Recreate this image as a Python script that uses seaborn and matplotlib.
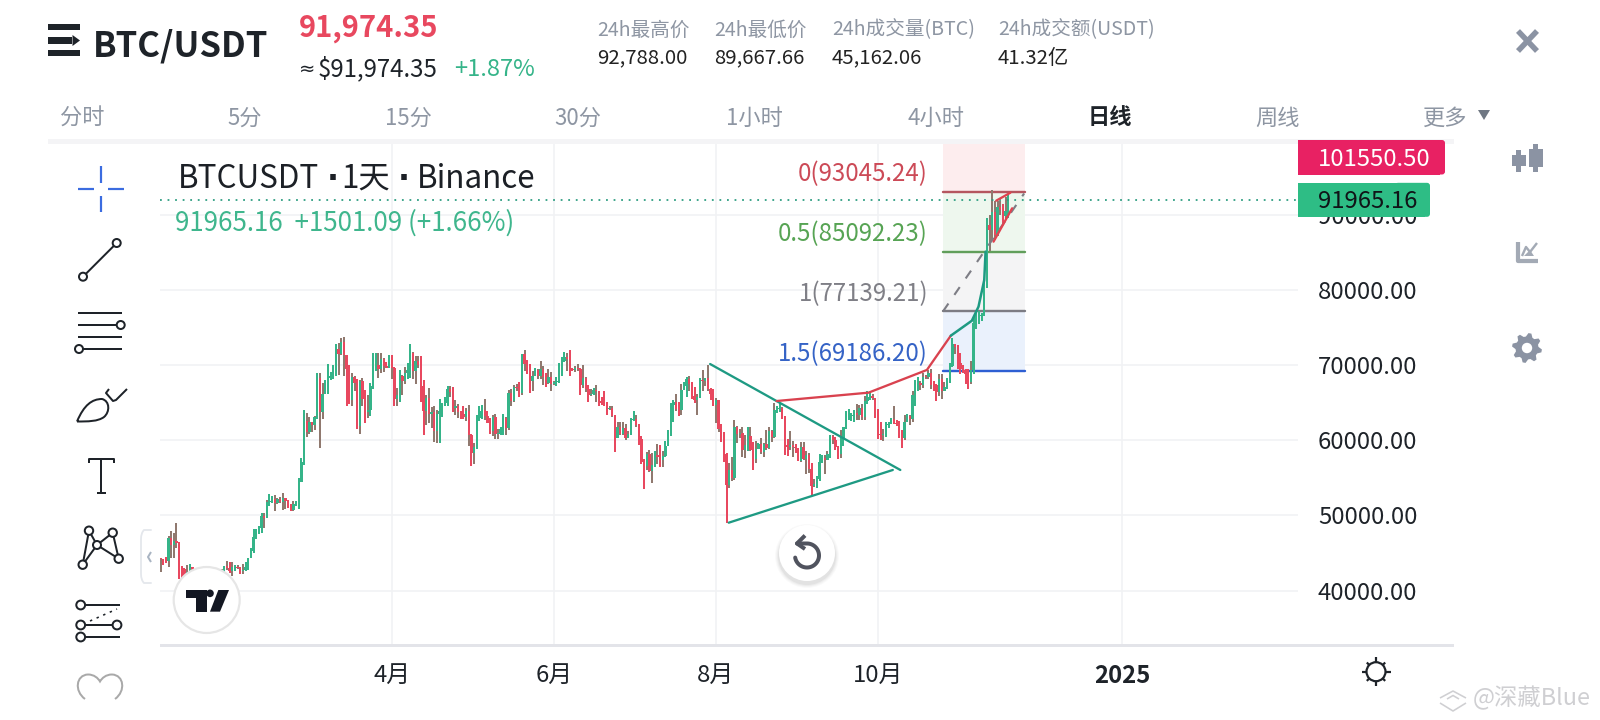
import numpy as np
import pandas as pd
import seaborn as sns
import matplotlib
matplotlib.use("Agg")
import matplotlib.pyplot as plt
import matplotlib.dates as mdates
from matplotlib.patches import Circle, Polygon, Rectangle, FancyBboxPatch, PathPatch
from matplotlib.path import Path

# ---- daily BTCUSDT candles, 5 Jan 2024 onwards, in thousands of USDT ----
first_day = "2024-01-05"
first_open = 44.30
closes = [
    44.15,43.97,43.93,46.95,46.11,46.63,46.31,42.89,42.84,41.73,42.51,43.14,42.78,41.33,41.66,41.70,41.58,39.57,39.90,40.08,39.96,41.82,42.12,42.04,43.30,42.95,42.58,
    43.08,43.20,42.99,42.58,42.70,43.09,44.34,45.29,47.13,47.77,48.29,49.96,49.70,51.80,51.91,52.13,51.65,52.12,51.78,52.26,51.85,51.30,50.73,51.57,51.73,54.49,57.04,62.50,61.13,
    62.39,61.98,63.13,68.24,63.80,66.10,66.89,68.28,68.50,69.02,72.12,71.48,73.07,71.39,69.50,65.29,68.39,67.60,61.94,67.84,65.50,63.80,64.03,67.24,69.95,69.99,69.45,70.78,69.89,69.65,71.33,
    69.65,65.46,65.96,68.50,67.83,68.90,69.36,71.62,69.14,70.59,70.06,67.19,63.92,65.66,63.42,63.79,61.28,63.47,63.82,64.94,64.94,66.84,66.41,64.28,64.50,63.77,63.46,63.12,63.84,60.67,
    58.32,59.12,62.89,63.89,64.03,63.16,62.33,61.19,63.07,60.79,60.82,61.48,62.94,61.58,66.25,65.23,67.05,66.94,66.27,71.45,70.14,69.12,67.93,68.51,69.28,68.51,69.43,68.37,67.63,68.36,67.49,
    67.75,67.75,68.80,70.57,71.08,70.76,69.35,69.31,69.65,69.50,67.32,68.24,66.75,66.01,66.19,66.64,66.49,65.15,64.96,64.83,64.10,64.25,63.18,60.27,61.80,60.86,61.68,60.32,60.89,62.67,
    62.88,62.04,60.20,57.05,56.63,58.23,55.85,56.70,58.04,57.72,57.34,57.89,59.20,60.80,64.72,65.04,64.09,63.98,66.68,67.15,68.16,67.53,65.93,65.37,65.77,67.91,67.90,68.25,66.78,66.19,64.62,
    65.35,61.49,60.70,58.16,53.99,56.03,55.03,61.71,60.88,60.94,58.71,59.35,60.60,58.74,57.56,58.87,59.48,58.44,59.49,59.02,61.16,60.38,64.04,64.16,64.22,62.83,59.42,59.03,59.37,59.12,58.97,
    57.30,59.13,57.48,57.97,56.16,53.95,54.16,54.87,57.05,57.64,57.34,58.13,60.50,60.00,59.13,58.21,60.30,61.76,62.95,63.20,63.35,63.58,63.33,64.26,63.14,65.18,65.78,65.86,65.60,63.33,
    60.80,60.65,60.75,62.08,62.09,62.82,62.22,62.13,60.58,60.27,62.45,63.20,62.85,66.05,67.04,67.61,67.37,68.43,68.38,69.00,67.37,67.36,66.43,68.16,66.60,67.01,67.93,69.91,72.73,72.34,70.29,
    69.50,69.37,68.77,67.80,69.35,75.64,75.90,76.54,76.68,80.37,88.65,87.95,90.37,87.25,91.06,90.55,89.85,90.464,91.965,
]
highs = [
    44.36,44.19,44.47,47.25,47.90,47.70,49.05,46.52,43.26,43.07,43.40,43.58,43.20,42.93,42.20,41.87,41.90,41.67,40.13,40.55,40.35,42.23,42.20,42.84,43.31,43.88,43.75,
    43.75,43.42,43.38,43.12,43.49,43.76,44.37,45.61,48.20,48.17,48.59,50.33,50.36,52.04,52.82,52.57,52.65,52.37,52.47,52.95,52.37,52.03,51.55,51.96,51.95,54.91,57.59,64.00,63.68,
    63.11,62.43,63.23,68.99,69.00,67.64,67.98,70.13,69.02,70.00,72.80,72.92,73.65,73.78,71.36,70.00,68.93,68.55,68.11,68.03,68.24,66.65,65.98,67.62,71.56,71.60,71.55,71.56,70.92,70.35,71.37,
    71.37,69.67,66.90,69.29,68.72,69.67,70.33,72.80,71.76,71.17,71.23,71.23,68.00,66.00,66.88,64.37,64.50,64.00,65.45,65.00,65.70,67.23,67.21,67.07,65.30,64.79,63.88,64.50,64.24,64.73,
    60.82,59.60,63.32,64.49,64.64,65.50,63.85,62.99,63.40,63.47,61.44,61.82,63.45,63.12,66.70,66.80,67.40,67.45,67.70,71.52,71.95,70.63,70.08,69.20,69.55,69.50,70.59,69.90,68.90,69.50,69.02,
    67.90,68.40,70.27,71.06,71.76,71.63,71.98,69.56,69.85,70.15,69.56,70.00,68.45,67.30,66.79,66.95,67.30,66.60,65.70,66.48,65.07,64.50,64.55,63.37,62.40,62.48,62.37,62.20,61.20,63.00,
    63.86,63.29,62.15,60.50,57.50,58.48,58.75,58.30,58.60,59.50,59.30,58.50,59.85,61.42,64.90,65.40,66.13,65.10,67.49,67.80,68.37,68.49,67.80,67.10,66.17,68.30,69.40,68.32,70.00,66.95,66.80,
    65.59,65.00,62.15,61.10,58.30,57.00,57.75,62.75,61.85,61.45,61.80,60.70,61.80,61.80,59.80,59.85,59.65,60.30,59.60,61.40,61.82,61.40,64.99,64.50,65.00,64.48,63.20,60.20,61.17,59.90,59.45,
    59.00,59.81,59.82,58.52,58.33,57.00,54.85,55.30,58.12,58.04,58.00,58.60,60.67,60.66,60.38,59.21,61.32,61.80,63.85,64.13,63.56,64.00,64.75,64.70,64.82,65.84,66.50,66.26,66.08,65.55,
    64.13,62.37,61.47,62.48,62.37,63.00,64.50,62.70,62.50,61.30,63.40,63.45,63.30,66.50,67.95,68.38,67.90,68.97,68.67,69.40,69.49,67.84,67.45,68.80,68.74,67.78,68.25,70.27,73.62,72.70,72.70,
    71.60,70.00,69.50,69.50,70.55,76.46,76.95,77.20,76.95,81.50,89.50,89.96,93.27,91.76,91.85,91.80,91.40,92.30,92.79,
]
lows = [
    42.45,43.40,43.63,43.20,44.30,44.35,45.61,41.50,41.72,41.72,41.72,42.05,42.20,40.68,40.28,41.41,41.45,39.43,38.56,39.48,39.60,39.82,41.39,41.62,41.81,42.68,42.28,
    41.88,42.57,42.88,42.22,42.26,42.57,42.79,44.33,44.96,46.80,47.55,47.71,48.30,49.63,51.31,51.60,50.63,51.52,51.65,50.75,50.90,50.93,50.52,50.58,51.28,50.90,54.45,56.70,60.36,
    60.79,61.10,61.30,62.88,59.00,62.77,66.17,66.14,68.03,68.13,68.60,68.63,71.33,68.55,64.54,64.87,64.55,66.60,61.50,60.78,64.50,62.26,63.00,63.16,66.75,69.26,68.23,68.90,69.08,69.55,69.60,
    68.20,64.49,64.50,65.10,66.00,67.45,68.20,68.30,68.20,67.50,69.57,65.09,60.66,62.00,62.30,61.62,59.77,59.60,59.60,63.10,64.50,64.50,65.75,63.75,63.40,63.00,62.80,62.80,62.60,59.19,
    56.55,56.90,58.80,62.55,62.80,62.70,62.30,60.89,60.62,60.19,60.15,60.63,60.75,60.70,61.32,64.60,65.10,66.60,65.80,66.00,69.15,68.80,66.30,66.50,68.80,68.10,68.20,67.30,67.10,67.50,66.60,
    67.30,67.25,67.60,68.55,70.35,69.20,68.50,69.20,69.13,69.25,66.05,66.90,66.40,65.08,65.90,66.02,65.13,64.50,64.70,64.50,63.40,64.00,63.05,58.40,60.25,60.70,60.63,60.00,60.55,60.70,
    62.52,61.80,59.39,56.77,53.50,56.00,55.72,54.26,56.50,56.88,56.48,56.50,57.80,59.65,60.60,62.40,63.90,63.25,63.30,66.70,65.75,66.60,65.45,64.90,63.40,65.60,66.60,67.20,66.50,65.30,64.50,
    62.30,61.10,59.80,57.10,49.00,53.70,54.54,54.75,59.60,60.30,57.70,57.65,58.50,58.50,56.10,57.00,58.80,58.20,57.80,58.75,58.80,59.80,60.35,63.60,63.80,62.80,58.03,57.85,58.70,57.75,58.30,
    57.20,57.12,57.40,55.55,55.60,52.55,53.75,53.60,54.60,56.95,55.55,57.60,57.63,59.45,58.70,57.50,57.60,59.17,61.55,62.70,62.55,62.38,62.70,62.70,62.67,62.70,64.80,65.40,65.40,62.90,
    60.10,59.98,59.90,60.40,61.68,62.10,62.10,61.90,60.30,58.90,60.00,62.40,62.00,62.40,64.50,66.50,66.70,67.00,68.10,68.10,66.80,66.50,65.25,65.90,65.50,66.80,66.80,67.60,69.70,71.40,69.50,
    68.80,69.00,67.45,66.80,67.46,68.80,74.80,75.50,75.80,76.50,80.20,85.20,86.60,86.65,87.20,90.00,88.70,89.30,89.60,
]

# ---- price axis and date axis ----
price_ticks = [40000, 50000, 60000, 70000, 80000, 90000]
price_range = [32766, 99787]
date_range = ["2024-01-04 19:00", "2025-03-08 02:00"]
date_ticks = ["2024-04-01", "2024-06-01", "2024-08-01", "2024-10-01", "2025-01-01"]
date_labels = ["4月", "6月", "8月", "10月", "2025"]

# ---- Fibonacci tool ----
fib_span = ["2024-10-25 12:00", "2024-11-25 10:00"]
fib_levels = [100998.25, 93045.24, 85092.23, 77139.21, 69186.20]
fib_names = ["0", "0.5", "1", "1.5"]
fib_fills = ["#FDEDEE", "#EEF7EE", "#F4F4F5", "#EAF1FC"]
fib_lines = ["#B5565F", "#619E5B", "#7C7C84", "#2E5FD3"]
fib_text = ["#CC4A57", "#57A454", "#7F7F86", "#3563C6"]
fib_diag_dates = ["2024-10-25 12:00", "2024-11-25 00:00"]
fib_diag_prices = [77139, 92800]

# ---- hand-drawn trend lines ----
wedge_upper_dates = ["2024-07-29 20:00", "2024-10-09 10:00"]
wedge_upper_prices = [70130, 56040]
wedge_lower_dates = ["2024-08-05 20:00", "2024-10-06 14:00"]
wedge_lower_prices = [49030, 56040]
red_path_dates = ["2024-08-23 20:00", "2024-09-27 10:00", "2024-10-19 10:00", "2024-10-28 10:00"]
red_path_prices = [65210, 66320, 69340, 73900]
teal_path_dates = ["2024-10-28 10:00", "2024-11-05 08:00", "2024-11-07 20:00", "2024-11-10 00:00", "2024-11-10 12:00"]
teal_path_prices = [73900, 75890, 77750, 81300, 85070]
channel_low_dates = ["2024-11-13 12:00", "2024-11-20 12:00"]
channel_low_prices = [86400, 90840]
channel_high_dates = ["2024-11-14 12:00", "2024-11-19 20:00"]
channel_high_prices = [91850, 92910]

last_price = 91965.16
last_change = "91965.16  +1501.09 (+1.66%)"

GREEN = "#35B489"
RED = "#E8485F"
MUTED = "#90796F"
INK = "#1E2329"
SLATE = "#8B93A3"
GRID = "#F1F2F4"

sns.set_theme(style="white")
plt.rcParams["font.family"] = ["Noto Sans CJK SC", "DejaVu Sans"]

fig = plt.figure(figsize=(16, 7.2), dpi=100)
W, H = 1600, 720
px = 0.72  # points per pixel at this resolution
ax = fig.add_axes([160 / W, (H - 645) / H, (1298 - 160) / W, (645 - 141) / H])

# ---- candles ----
days = pd.date_range(first_day, periods=len(closes), freq="D")
candles = pd.DataFrame({
    "day": mdates.date2num(days),
    "open": np.array([first_open] + closes[:-1]) * 1000,
    "close": np.array(closes) * 1000,
    "high": np.array(highs) * 1000,
    "low": np.array(lows) * 1000,
})
candles["up"] = candles["close"] >= candles["open"]
candles["flip"] = candles["up"] != candles["up"].shift(1, fill_value=True)
candles["body_color"] = np.where(candles["up"], GREEN, RED)
candles["wick_color"] = np.where(candles["flip"], MUTED, candles["body_color"])
candles["bottom"] = candles[["open", "close"]].min(axis=1)
candles["height"] = (candles["open"] - candles["close"]).abs().clip(lower=120)

# Horizontal and vertical grid
for p in price_ticks:
    ax.axhline(p, color=GRID, lw=1.6 * px, zorder=0.5)
for d in mdates.date2num(pd.to_datetime(date_ticks)):
    ax.axvline(d, color=GRID, lw=1.6 * px, zorder=0.5)

# Fibonacci bands and level lines
fx = mdates.date2num(pd.to_datetime(fib_span))
for i, fill in enumerate(fib_fills):
    ax.fill_between(fx, fib_levels[i + 1], fib_levels[i], color=fill, lw=0, zorder=0.8)
    sns.lineplot(x=fx, y=[fib_levels[i + 1]] * 2, ax=ax, color=fib_lines[i],
                 lw=2.4 * px, estimator=None, sort=False, zorder=1.5)
    ax.annotate(f"{fib_names[i]}({fib_levels[i + 1]:.2f})",
                xy=(fx[0], fib_levels[i + 1]), xytext=(-15 * px, 4.5 * px),
                textcoords="offset points", ha="right", va="bottom",
                fontsize=17.3, color=fib_text[i], zorder=6)

ax.vlines(candles["day"], candles["low"], candles["high"],
          colors=candles["wick_color"], lw=2.0 * px, zorder=2)
ax.bar(candles["day"], candles["height"], bottom=candles["bottom"], width=0.88,
       color=candles["body_color"], lw=0, zorder=2.2)


def trend(dates, prices, color, lw=2.3, ls="-", z=3):
    sns.lineplot(x=mdates.date2num(pd.to_datetime(dates)), y=prices, ax=ax, color=color,
                 lw=lw * px, ls=ls, estimator=None, sort=False, zorder=z)


trend(fib_diag_dates, fib_diag_prices, "#7D7D85", lw=2.1, ls=(0, (4.5, 5)))
trend(wedge_upper_dates, wedge_upper_prices, "#1E9A83")
trend(wedge_lower_dates, wedge_lower_prices, "#1E9A83")
trend(red_path_dates, red_path_prices, "#D9424F")
trend(teal_path_dates, teal_path_prices, "#1E9A83", lw=2.5)
trend(channel_low_dates, channel_low_prices, "#E0434F")
trend(channel_high_dates, channel_high_prices, "#E0434F")

ax.axhline(last_price, color="#2E9E82", lw=1.8 * px, ls=(0, (1, 3.2)), zorder=2.6)

# Axes furniture
ax.set_xlim(*mdates.date2num(pd.to_datetime(date_range)))
ax.set_ylim(*price_range)
ax.set_xlabel("")
ax.set_ylabel("")
ax.yaxis.tick_right()
ax.set_yticks(price_ticks, [f"{p:.2f}" for p in price_ticks])
ax.set_xticks(mdates.date2num(pd.to_datetime(date_ticks)), date_labels)
ax.tick_params(axis="y", length=0, pad=20 * px, labelsize=17.2, labelcolor=INK)
ax.tick_params(axis="x", length=0, pad=19 * px, labelsize=17.2, labelcolor=INK)
ax.get_xticklabels()[-1].set_fontweight("bold")
ax.grid(False)
sns.despine(ax=ax, left=True, right=True, top=True, bottom=True)

# ---- everything around the chart, placed in pixel coordinates ----
ui = fig.add_axes([0, 0, 1, 1], facecolor="none")
ui.set_xlim(0, W)
ui.set_ylim(H, 0)
ui.axis("off")


def draw(points, color=INK, lw=2.0, **kw):
    xs, ys = zip(*points)
    ui.plot(xs, ys, color=color, lw=lw * px, solid_capstyle=kw.pop("cap", "butt"), **kw)


def ring(x, y, r, color=INK, lw=2.0):
    ui.add_patch(Circle((x, y), r, fc="white", ec=color, lw=lw * px, zorder=4))


def block(x0, y0, x1, y1, color):
    ui.add_patch(Rectangle((x0, y0), x1 - x0, y1 - y0, fc=color, ec="none"))


def label(x, y, s, size, color=INK, weight="normal", ha="left", z=6):
    ui.text(x, y, s, fontsize=size, color=color, fontweight=weight, ha=ha, va="center", zorder=z)


# Top and bottom rules
block(48, 138.5, 1454, 144, "#F4F4F6")
block(160, 644, 1454, 646.5, "#E3E4E9")

# Ticker logo and name
block(48, 24, 80, 30, INK)
block(48, 37, 72, 44, INK)
ui.add_patch(Polygon([(72.5, 35), (80, 40.5), (72.5, 46)], fc=INK, ec="none"))
block(48, 50, 80, 56, INK)
label(93, 46, "BTC/USDT", 25, weight="bold")

# Quote block
label(299, 28, "91,974.35", 21, color=RED, weight="bold")
ui.text(299, 69, "≈", fontsize=14, color=INK, family="DejaVu Sans", ha="left", va="center", zorder=6)
label(318, 69, "$91,974.35", 17.3, color=INK)
label(454, 69, "+1.87%", 17, color=GREEN)

# 24h statistics
stat_x = [597, 714, 832, 998]
stat_heads = ["24h最高价", "24h最低价", "24h成交量(BTC)", "24h成交额(USDT)"]
stat_values = ["92,788.00", "89,667.66", "45,162.06", "41.32亿"]
for x, head, value in zip(stat_x, stat_heads, stat_values):
    label(x, 30, head, 14.1, color="#8E96A3")
    label(x, 58, value, 14.7, color="#222222")

# Interval tabs
tab_x = [82, 245, 408, 578, 754, 936, 1110, 1278, 1445]
tab_names = ["分时", "5分", "15分", "30分", "1小时", "4小时", "日线", "周线", "更多"]
for x, name in zip(tab_x, tab_names):
    if name == "日线":
        label(x, 118, name, 16, color=INK, weight="bold", ha="center")
    else:
        label(x, 118, name, 16, color="#8E96A3", ha="center")
ui.add_patch(Polygon([(1478, 110), (1490, 110), (1484, 120)], fc="#6F7783", ec="none"))

# Chart title, in pieces so the separators sit tight, and last-bar summary
for x, part in [(178, "BTCUSDT"), (341, "1天"), (417, "Binance")]:
    label(x, 179, part, 22.6, color="#1C2026")
for x in (333, 404):
    ui.text(x, 179, "·", fontsize=22.6, fontweight="bold", color="#1C2026", family="DejaVu Sans",
            ha="center", va="center", zorder=6)
label(175, 223, last_change, 18.7, color="#3FB68D")

# Price tags on the right edge
tag_y = H - ax.transData.transform((0, last_price))[1]
block(1298, 140, 1440, 174.5, "#E82163")
ui.add_patch(FancyBboxPatch((1400, 140), 45, 34.5, boxstyle="round,pad=0,rounding_size=3",
                            fc="#E82163", ec="none"))
label(1318, 159, "101550.50", 17.2, color="white")
block(1298, tag_y - 17, 1425, tag_y + 17, "#2EBD85")
ui.add_patch(FancyBboxPatch((1395, tag_y - 17), 35, 34, boxstyle="round,pad=0,rounding_size=3",
                            fc="#2EBD85", ec="none"))
label(1318, tag_y + 1.5, f"{last_price:.2f}", 17.2, color="#101418")

# Close button
draw([(1518, 31), (1537, 51)], SLATE, 5.5)
draw([(1537, 31), (1518, 51)], SLATE, 5.5)

# Side icons on the right
block(1516, 150, 1521, 172, SLATE)
block(1512, 155, 1526, 166, SLATE)
block(1533, 144, 1538, 172, SLATE)
block(1529, 149, 1542.5, 167, SLATE)
draw([(1518, 242), (1518, 261), (1538, 261)], "#A3AAB5", 4.2)
draw([(1522, 256), (1526, 247), (1530, 252), (1537, 243)], "#A3AAB5", 2.4)
ui.add_patch(Polygon([(1524, 256), (1534, 256), (1530, 250)], fc="#A3AAB5", ec="none"))
teeth = np.arange(32) * np.pi / 16
gear_r = np.where((np.arange(32) % 4) < 2, 15, 11.5)
ui.add_patch(Polygon(np.c_[1527 + gear_r * np.cos(teeth + 0.1), 348 + gear_r * np.sin(teeth + 0.1)],
                     fc=SLATE, ec="none"))
ui.add_patch(Circle((1527, 348), 5.2, fc="white", ec="none"))

# Drawing toolbar: crosshair
BLUE = "#3B6CE0"
draw([(78, 188.7), (94, 188.7)], BLUE, 2.2)
draw([(108, 188.7), (124, 188.7)], BLUE, 2.2)
draw([(101, 166), (101, 183)], BLUE, 2.2)
draw([(101, 196), (101, 212)], BLUE, 2.2)
# line tool
draw([(83, 276.7), (116.7, 243)], INK, 2)
ring(83, 276.7, 4)
ring(116.7, 243, 4)
# parallel lines tool
for y in (313, 325, 337, 349):
    draw([(78, y), (122, y)], INK, 2)
ring(120.7, 325, 4)
ring(79, 349, 4)
# brush tool
brush = Path([(77, 421.5), (84, 405), (92, 399), (102, 399),
              (110, 401), (110, 412), (104, 417),
              (98, 421.5), (88, 421.5), (77, 421.5)],
             [Path.MOVETO] + [Path.CURVE4] * 9)
ui.add_patch(PathPatch(brush, fc="none", ec=INK, lw=2 * px))
draw([(109, 389), (106, 393), (113, 401), (116, 400), (127, 389)], INK, 2)
# text tool
draw([(88.5, 463), (88.5, 459), (113.5, 459), (113.5, 463)], INK, 2)
draw([(101, 459), (101, 492.7)], INK, 2)
draw([(96.5, 492.7), (105.5, 492.7)], INK, 2)
# pattern tool
hub = (97, 545)
nodes = [(89, 530.7), (112.7, 532.7), (82.7, 564.7), (118.7, 558.7)]
for n in nodes:
    draw([hub, n], INK, 2)
draw([nodes[0], nodes[2]], INK, 2)
draw([nodes[1], nodes[3]], INK, 2)
for n in nodes:
    ring(*n, 4.2)
ring(*hub, 4)
# fibonacci tool
for y in (605, 625, 637):
    draw([(81, y), (120, y)], INK, 2)
draw([(90, 621), (117, 609)], INK, 1.6, ls=(0, (1.5, 3)))
for c in ((80.7, 605), (80.7, 625), (117, 625), (80.7, 637)):
    ring(*c, 4.4)
# favourites heart, fading at the bottom of the toolbar
heart = Path([(85, 699), (74, 691), (76, 675), (88, 674.5), (94, 674.5), (98, 678), (100, 681.5),
              (102, 678), (106, 674.5), (112, 674.5), (124, 675), (126, 691), (115, 699)],
             [Path.MOVETO] + [Path.CURVE4] * 12)
ui.add_patch(PathPatch(heart, fc="none", ec="#A9A9A9", lw=2 * px))

# Collapse handle
handle = Path([(151.7, 530), (144, 530), (141, 533), (141, 539), (141, 574), (141, 580), (144, 583), (151.7, 583)],
              [Path.MOVETO, Path.LINETO, Path.CURVE3, Path.CURVE3, Path.LINETO, Path.CURVE3, Path.CURVE3, Path.LINETO])
ui.add_patch(PathPatch(handle, fc="white", ec="#E4E7EC", lw=1.8 * px))
draw([(151, 552), (148, 557), (151, 562)], "#A9B4C2", 2)

# Platform badge
ui.add_patch(Circle((206.7, 600), 33, fc="white", ec="#E6E6E6", lw=2.2 * px, zorder=4))
to_px = lambda pts: [(50 + x / 3, 430 + y / 3) for x, y in pts]
ui.add_patch(Polygon(to_px([(408, 480), (470, 480), (470, 545), (437, 545), (437, 505), (408, 505)]),
                     fc="#131722", ec="none", zorder=5))
ui.add_patch(Circle((50 + 480 / 3, 430 + 490 / 3), 3.8, fc="#131722", ec="none", zorder=5))
ui.add_patch(Polygon(to_px([(505, 480), (537, 480), (510, 545), (480, 545)]), fc="#131722", ec="none", zorder=5))

# Reset button with a soft shadow
for r, a in ((32, 0.02), (31, 0.025), (30, 0.03), (29, 0.04)):
    ui.add_patch(Circle((807, 556), r, fc="black", ec="none", alpha=a, zorder=4))
ui.add_patch(Circle((807, 553), 28, fc="white", ec="none", zorder=4))
arc = np.radians(np.linspace(-90, 170, 60))
ui.plot(np.r_[797, 807 + 12 * np.cos(arc)], np.r_[543.5, 555.5 + 12 * np.sin(arc)],
        color="#50535E", lw=4 * px, zorder=5)
draw([(805, 535.5), (797, 543.5), (805, 549)], "#50535E", 4, zorder=5)

# Theme toggle
ui.add_patch(Circle((1376, 671.7), 9.5, fc="white", ec=INK, lw=2.2 * px))
for a in np.arange(8) * np.pi / 4:
    r0, r1 = (9.5, 14.5) if int(round(a / (np.pi / 4))) % 2 == 0 else (9.5, 13)
    draw([(1376 + r0 * np.cos(a), 671.7 + r0 * np.sin(a)), (1376 + r1 * np.cos(a), 671.7 + r1 * np.sin(a))], INK, 2.2)

# Author mark in the lower corner
MARK = "#CFCFD2"
draw([(1440, 698), (1453, 691), (1466, 698)], MARK, 1.6)
draw([(1447, 699), (1453, 695.5), (1459, 699)], MARK, 1.6)
draw([(1440, 703), (1453, 711), (1466, 703)], MARK, 1.6)
label(1473, 698, "@深藏Blue", 16.8, color=MARK)

fig.savefig("out.png", dpi=100, facecolor="white")
